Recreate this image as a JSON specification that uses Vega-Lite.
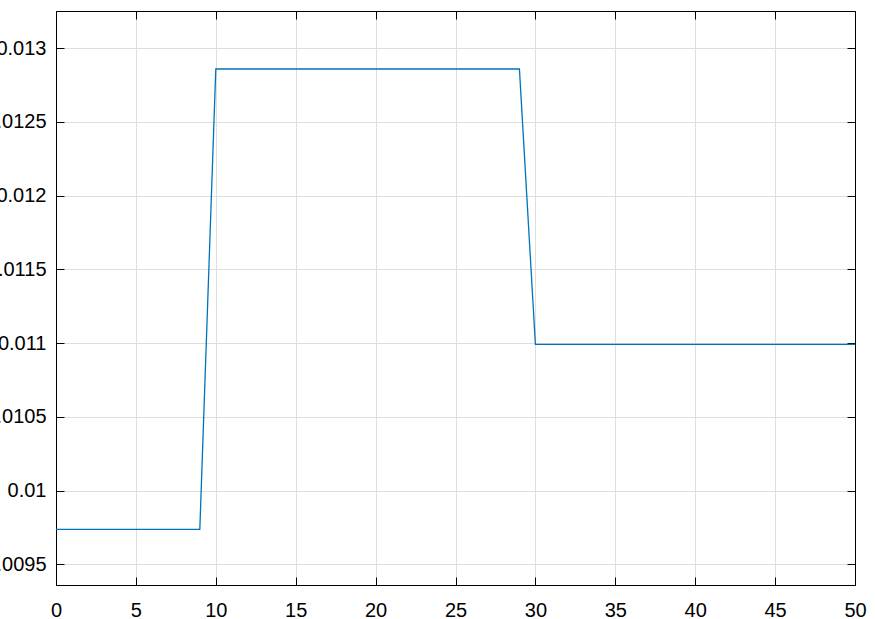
{
  "$schema": "https://vega.github.io/schema/vega-lite/v6.json",
  "autosize": "none",
  "width": 799,
  "height": 574,
  "padding": {"left": 56, "top": 11, "right": 20, "bottom": 34},
  "background": "white",
  "data": {
    "values": [
      {"t": 0, "v": 0.009737}, {"t": 1, "v": 0.009737}, {"t": 2, "v": 0.009737},
      {"t": 3, "v": 0.009737}, {"t": 4, "v": 0.009737}, {"t": 5, "v": 0.009737},
      {"t": 6, "v": 0.009737}, {"t": 7, "v": 0.009737}, {"t": 8, "v": 0.009737},
      {"t": 9, "v": 0.009737}, {"t": 10, "v": 0.012858}, {"t": 11, "v": 0.012858},
      {"t": 12, "v": 0.012858}, {"t": 13, "v": 0.012858}, {"t": 14, "v": 0.012858},
      {"t": 15, "v": 0.012858}, {"t": 16, "v": 0.012858}, {"t": 17, "v": 0.012858},
      {"t": 18, "v": 0.012858}, {"t": 19, "v": 0.012858}, {"t": 20, "v": 0.012858},
      {"t": 21, "v": 0.012858}, {"t": 22, "v": 0.012858}, {"t": 23, "v": 0.012858},
      {"t": 24, "v": 0.012858}, {"t": 25, "v": 0.012858}, {"t": 26, "v": 0.012858},
      {"t": 27, "v": 0.012858}, {"t": 28, "v": 0.012858}, {"t": 29, "v": 0.012858},
      {"t": 30, "v": 0.010991}, {"t": 31, "v": 0.010991}, {"t": 32, "v": 0.010991},
      {"t": 33, "v": 0.010991}, {"t": 34, "v": 0.010991}, {"t": 35, "v": 0.010991},
      {"t": 36, "v": 0.010991}, {"t": 37, "v": 0.010991}, {"t": 38, "v": 0.010991},
      {"t": 39, "v": 0.010991}, {"t": 40, "v": 0.010991}, {"t": 41, "v": 0.010991},
      {"t": 42, "v": 0.010991}, {"t": 43, "v": 0.010991}, {"t": 44, "v": 0.010991},
      {"t": 45, "v": 0.010991}, {"t": 46, "v": 0.010991}, {"t": 47, "v": 0.010991},
      {"t": 48, "v": 0.010991}, {"t": 49, "v": 0.010991}, {"t": 50, "v": 0.010991}
    ]
  },
  "layer": [
    {
      "mark": {"type": "line", "color": "#0072BD", "strokeWidth": 1.3, "clip": true},
      "encoding": {
        "x": {
          "field": "t",
          "type": "quantitative",
          "scale": {"domain": [0, 50], "nice": false, "zero": false},
          "axis": {
            "title": null,
            "orient": "bottom",
            "values": [0, 5, 10, 15, 20, 25, 30, 35, 40, 45, 50],
            "format": "d",
            "grid": true,
            "tickSize": -8,
            "labelPadding": 23
          }
        },
        "y": {
          "field": "v",
          "type": "quantitative",
          "scale": {"domain": [0.00936, 0.013251], "nice": false, "zero": false},
          "axis": {
            "title": null,
            "orient": "left",
            "values": [0.0095, 0.01, 0.0105, 0.011, 0.0115, 0.012, 0.0125, 0.013],
            "format": "~g",
            "grid": true,
            "tickSize": -8,
            "labelPadding": 18
          }
        }
      }
    },
    {
      "mark": {"type": "line", "opacity": 0},
      "encoding": {
        "x": {
          "field": "t",
          "type": "quantitative",
          "scale": {"domain": [0, 50], "nice": false, "zero": false},
          "axis": {
            "title": null,
            "orient": "top",
            "values": [0, 5, 10, 15, 20, 25, 30, 35, 40, 45, 50],
            "labels": false,
            "grid": false,
            "tickSize": -8
          }
        },
        "y": {
          "field": "v",
          "type": "quantitative",
          "scale": {"domain": [0.00936, 0.013251], "nice": false, "zero": false},
          "axis": {
            "title": null,
            "orient": "right",
            "values": [0.0095, 0.01, 0.0105, 0.011, 0.0115, 0.012, 0.0125, 0.013],
            "labels": false,
            "grid": false,
            "tickSize": -8
          }
        }
      }
    }
  ],
  "resolve": {"axis": {"x": "independent", "y": "independent"}},
  "config": {
    "view": {"stroke": "black", "strokeWidth": 1},
    "axis": {
      "domainColor": "black",
      "domainWidth": 1,
      "tickColor": "black",
      "tickWidth": 1,
      "gridColor": "#dedede",
      "gridWidth": 1,
      "labelFont": "Liberation Sans",
      "labelFontSize": 20,
      "labelColor": "black",
      "labelFlush": false,
      "labelOverlap": false
    }
  }
}
